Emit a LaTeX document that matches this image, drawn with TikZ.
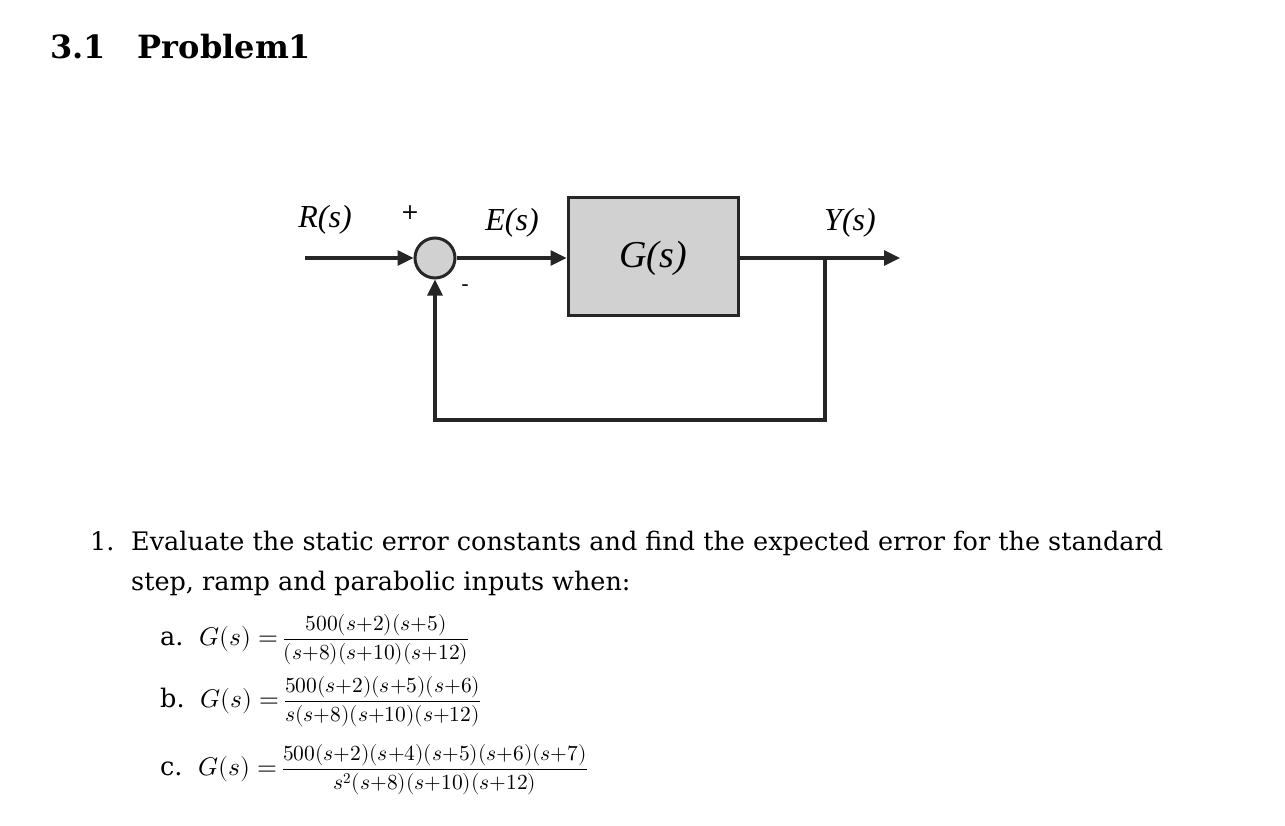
\documentclass[tikz,border=0pt]{standalone}
\usepackage{unicode-math}
\setmainfont{DejaVu Serif}
\setmathfont{Latin Modern Math}
\newfontfamily\dfont{Liberation Serif}
\usetikzlibrary{arrows.meta}
\newcommand{\myfr}[2]{{\fontsize{21.5}{24}\selectfont$\dfrac{#1}{#2}$}}
\begin{document}
\begin{tikzpicture}[x=1pt,y=-1pt,
  wire/.style={line width=3.2pt,draw=black!85},
  arr/.style={wire,-{Triangle[length=16pt,width=15pt]}},
  lab/.style={font=\dfont\fontsize{32}{32}\selectfont\itshape,inner sep=0},
  txt/.style={anchor=base west,inner sep=0,font=\fontsize{25.5}{30}\selectfont}]
\useasboundingbox (0,0) rectangle (1285,825);
\node[anchor=base west,inner sep=0,font=\bfseries\fontsize{32}{36}\selectfont] (h) at (50,58) {3.1\hspace{32pt}Problem1};
\node[circle,draw=black!85,line width=3pt,fill=black!18,minimum size=40pt,inner sep=0] (sum) at (435,258) {};
\node[draw=black!85,line width=3pt,fill=black!18,minimum width=170pt,minimum height=118pt,inner sep=0] (g) at (653,256) {};
\node[lab,font=\dfont\fontsize{38}{38}\selectfont\itshape] (gl) at (653,258) {G(s)};
\coordinate (in) at (305,258);
\coordinate (out) at (900,258);
\coordinate (br) at (825,258);
\coordinate (c1) at (825,420);
\coordinate (c2) at (435,420);
\draw[arr] (in) -- (sum);
\draw[arr] (sum) -- (sum-|g.west);
\draw[arr] (g.east|-out) -- (out);
\draw[arr] (br) -- (c1) -- (c2) -- (sum);
\node[lab] (r) at (325,220) {R(s)};
\node[lab] (e) at (512,223) {E(s)};
\node[lab] (y) at (850,223) {Y(s)};
\node[inner sep=0,font=\fontsize{22}{22}\selectfont] (p) at (410,213) {+};
\node[inner sep=0,font=\fontsize{22}{22}\selectfont] (m) at (465,288) {-};
\node[txt] (n1) at (90,550) {1.};
\node[txt] (t1) at (131,550) {Evaluate the static error constants and find the expected error for the standard};
\node[txt] (t2) at (131,590) {step, ramp and parabolic inputs when:};
\node[txt] (a) at (160,645) {a.\ \ $G(s)=$\,\myfr{500(s{+}2)(s{+}5)}{(s{+}8)(s{+}10)(s{+}12)}};
\node[txt] (b) at (160,707) {b.\ \ $G(s)=$\,\myfr{500(s{+}2)(s{+}5)(s{+}6)}{s(s{+}8)(s{+}10)(s{+}12)}};
\node[txt] (c) at (160,775) {c.\ \ $G(s)=$\,\myfr{500(s{+}2)(s{+}4)(s{+}5)(s{+}6)(s{+}7)}{s^2(s{+}8)(s{+}10)(s{+}12)}};
\end{tikzpicture}
\end{document}
